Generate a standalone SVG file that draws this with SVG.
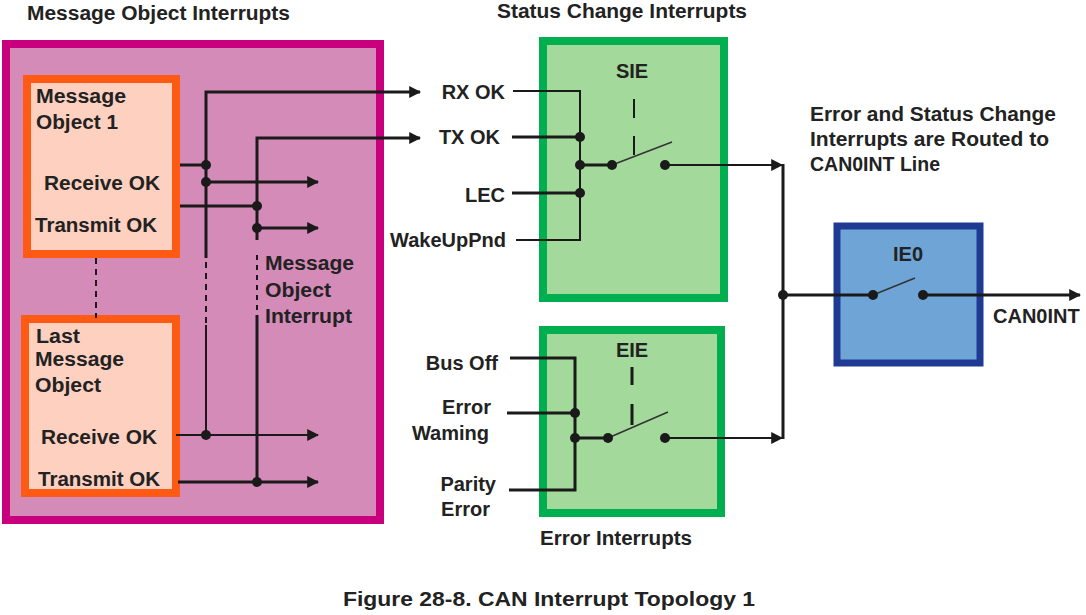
<svg xmlns="http://www.w3.org/2000/svg" width="1086" height="615" viewBox="0 0 1086 615">
<style>
text{font-family:"Liberation Sans",Arial,sans-serif;font-weight:bold;font-size:20px;fill:#222}
.w{fill:none;stroke:#1a1a1a;stroke-width:3}
.t{fill:none;stroke:#1a1a1a;stroke-width:2}
.d{fill:none;stroke:#1a1a1a;stroke-width:2;stroke-dasharray:6 5}
.sw{fill:none;stroke:#333;stroke-width:1.5}
.dot{fill:#1a1a1a}
.r{text-anchor:end}
</style>
<defs>
<marker id="a" viewBox="0 0 10 10" refX="9" refY="5" markerWidth="4" markerHeight="4" orient="auto" markerUnits="strokeWidth"><path d="M0,0L10,5L0,10z" fill="#1a1a1a"/></marker>
<marker id="a2" viewBox="0 0 10 10" refX="9" refY="5" markerWidth="6" markerHeight="6" orient="auto" markerUnits="strokeWidth"><path d="M0,0L10,5L0,10z" fill="#1a1a1a"/></marker>
</defs>
<rect width="1086" height="615" fill="#fff"/>
<g id="msgobj-area">
<rect x="6" y="44" width="374" height="476" fill="#D48BB8" stroke="#C8007E" stroke-width="8"/>
<text x="27" y="20" textLength="263" lengthAdjust="spacingAndGlyphs">Message Object Interrupts</text>
</g>
<g id="mo1">
<rect x="27" y="79" width="149" height="175" fill="#FDD0C0" stroke="#FF5A14" stroke-width="8"/>
<text x="36" y="103" textLength="90" lengthAdjust="spacingAndGlyphs">Message</text><text x="36" y="129" textLength="82" lengthAdjust="spacingAndGlyphs">Object 1</text>
<text x="44" y="190" textLength="116" lengthAdjust="spacingAndGlyphs">Receive OK</text><text x="35" y="232" textLength="122" lengthAdjust="spacingAndGlyphs">Transmit OK</text>
</g>
<g id="molast">
<rect x="25" y="319" width="151" height="174" fill="#FDD0C0" stroke="#FF5A14" stroke-width="8"/>
<text x="36" y="343" textLength="44" lengthAdjust="spacingAndGlyphs">Last</text><text x="35" y="366" textLength="89" lengthAdjust="spacingAndGlyphs">Message</text><text x="35" y="392" textLength="66" lengthAdjust="spacingAndGlyphs">Object</text>
<text x="41" y="444" textLength="116" lengthAdjust="spacingAndGlyphs">Receive OK</text><text x="38" y="486" textLength="122" lengthAdjust="spacingAndGlyphs">Transmit OK</text>
</g>
<g id="moi-label"><text x="265" y="270" textLength="89" lengthAdjust="spacingAndGlyphs">Message</text><text x="265" y="297" textLength="66" lengthAdjust="spacingAndGlyphs">Object</text><text x="265" y="323" textLength="87" lengthAdjust="spacingAndGlyphs">Interrupt</text></g>
<g id="sie">
<rect x="543" y="41" width="181" height="257" fill="#A3D99B" stroke="#00B050" stroke-width="8"/>
<text x="632" y="78" text-anchor="middle">SIE</text>
</g>
<g id="eie">
<rect x="543" y="330" width="178" height="183" fill="#A3D99B" stroke="#00B050" stroke-width="8"/>
<text x="632" y="357" text-anchor="middle">EIE</text>
<text x="540" y="545" textLength="152" lengthAdjust="spacingAndGlyphs">Error Interrupts</text>
</g>
<g id="ie0">
<rect x="837" y="226" width="143" height="137" fill="#6FA4D6" stroke="#1F3A93" stroke-width="7"/>
<text x="908" y="261" text-anchor="middle">IE0</text>
</g>
<g id="labels">
<text x="497" y="18" textLength="250" lengthAdjust="spacingAndGlyphs">Status Change Interrupts</text>
<text class="r" x="505" y="99">RX OK</text>
<text class="r" x="500" y="144">TX OK</text>
<text class="r" x="505" y="202">LEC</text>
<text class="r" x="506" y="247">WakeUpPnd</text>
<text class="r" x="498" y="370">Bus Off</text>
<text class="r" x="491" y="414">Error</text>
<text class="r" x="489" y="440">Waming</text>
<text class="r" x="496" y="491">Parity</text>
<text class="r" x="490" y="516">Error</text>
<text x="810" y="121" textLength="246" lengthAdjust="spacingAndGlyphs">Error and Status Change</text>
<text x="810" y="146" textLength="239" lengthAdjust="spacingAndGlyphs">Interrupts are Routed to</text>
<text x="810" y="171" textLength="130" lengthAdjust="spacingAndGlyphs">CAN0INT Line</text>
<text x="993" y="323">CAN0INT</text>
<text x="343" y="606" font-size="21" textLength="412" lengthAdjust="spacingAndGlyphs">Figure 28-8. CAN Interrupt Topology 1</text>
</g>
<g id="connectors">
<line class="d" x1="96" y1="258" x2="96" y2="318"/>
<path class="w" d="M206,258V92H420" marker-end="url(#a)"/>
<line class="d" x1="206" y1="262" x2="206" y2="325"/>
<line class="t" x1="206" y1="325" x2="206" y2="435"/>
<path class="w" d="M257,240V138H420" marker-end="url(#a)"/>
<line class="t" x1="257" y1="255" x2="257" y2="315" stroke-dasharray="5 5"/>
<line class="w" x1="257" y1="315" x2="257" y2="482"/>
<line class="w" x1="180" y1="165" x2="206" y2="165"/>
<path class="w" d="M206,182H318" marker-end="url(#a)"/>
<line class="w" x1="180" y1="206" x2="257" y2="206"/>
<path class="w" d="M257,228H318" marker-end="url(#a)"/>
<path class="t" d="M176,435H318" marker-end="url(#a2)"/>
<path class="w" d="M178,482H318" marker-end="url(#a)"/>
<path class="t" d="M513,91H580V240H516"/>
<line class="w" x1="512" y1="137" x2="580" y2="137"/>
<line class="w" x1="512" y1="193" x2="580" y2="193"/>
<line class="w" x1="580" y1="165" x2="612" y2="165"/>
<line class="sw" x1="612" y1="165" x2="672" y2="142"/>
<line class="t" x1="634" y1="99" x2="634" y2="118"/>
<line class="t" x1="634" y1="136" x2="634" y2="155"/>
<path class="t" d="M665,165H782" marker-end="url(#a2)"/>
<path class="w" d="M510,358H575V490H509"/>
<line class="w" x1="507" y1="413" x2="575" y2="413"/>
<line class="w" x1="575" y1="438" x2="608" y2="438"/>
<line class="sw" x1="608" y1="438" x2="668" y2="412"/>
<line class="w" x1="632" y1="367" x2="632" y2="385"/>
<line class="w" x1="632" y1="404" x2="632" y2="425"/>
<path class="t" d="M665,438H782" marker-end="url(#a2)"/>
<line class="w" x1="783" y1="164" x2="783" y2="439"/>
<line class="w" x1="783" y1="295" x2="873" y2="295"/>
<line class="sw" x1="873" y1="295" x2="915" y2="278"/>
<path class="w" d="M923,295H1080" marker-end="url(#a)"/>
<g class="dot">
<circle cx="206" cy="165" r="5"/><circle cx="206" cy="182" r="5"/><circle cx="257" cy="206" r="5"/><circle cx="257" cy="228" r="5"/>
<circle cx="206" cy="435" r="5"/><circle cx="257" cy="482" r="5"/>
<circle cx="580" cy="137" r="5"/><circle cx="580" cy="165" r="5"/><circle cx="580" cy="193" r="5"/><circle cx="612" cy="165" r="5"/><circle cx="665" cy="165" r="5"/>
<circle cx="575" cy="413" r="5"/><circle cx="575" cy="438" r="5"/><circle cx="608" cy="438" r="5"/><circle cx="665" cy="438" r="5"/>
<circle cx="783" cy="295" r="5"/><circle cx="873" cy="295" r="5"/><circle cx="923" cy="295" r="5"/>
</g>
</g>
</svg>
